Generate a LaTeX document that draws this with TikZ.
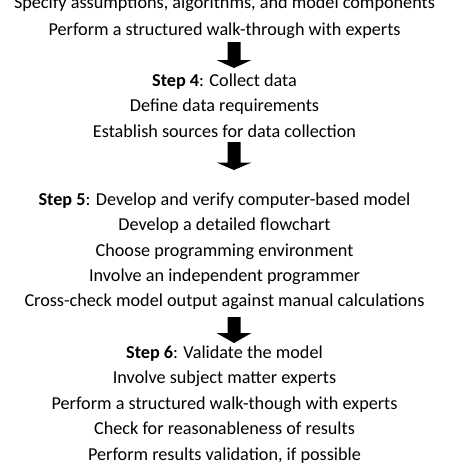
\documentclass[tikz,border=0pt]{standalone}
\usepackage{fontspec}
\setmainfont{Carlito}
\begin{document}
\begin{tikzpicture}[x=1pt,y=-1pt,
  line/.style={anchor=base,inner sep=0pt,font=\fontsize{18.2}{22}\selectfont},
  blockarrow/.style={fill=black}]
\useasboundingbox (0,0) rectangle (474,474);
\def\cx{224.5}
\node[line] (l1) at (\cx,8.3) {Specify assumptions, algorithms, and model components};
\node[line] (l2) at (\cx,35) {Perform a structured walk-through with experts};
\node[line] (s4) at (\cx,86) {\textbf{Step 4}: Collect data};
\node[line] (s4a) at (\cx,111.7) {Define data requirements};
\node[line] (s4b) at (\cx,137.3) {Establish sources for data collection};
\node[line] (s5) at (\cx,205) {\textbf{Step 5}: Develop and verify computer-based model};
\node[line] (s5a) at (\cx,230.7) {Develop a detailed flowchart};
\node[line] (s5b) at (\cx,256.7) {Choose programming environment};
\node[line] (s5c) at (\cx,281.7) {Involve an independent programmer};
\node[line] (s5d) at (\cx,306.7) {Cross-check model output against manual calculations};
\node[line] (s6) at (\cx,358.3) {\textbf{Step 6}: Validate the model};
\node[line] (s6a) at (\cx,383.3) {Involve subject matter experts};
\node[line] (s6b) at (\cx,409.3) {Perform a structured walk-though with experts};
\node[line] (s6c) at (\cx,434) {Check for reasonableness of results};
\node[line] (s6d) at (\cx,460) {Perform results validation, if possible};
% block arrows
\coordinate (a1) at (234,42);
\coordinate (a2) at (234,142);
\coordinate (a3) at (234,317);
\fill[blockarrow] (a1) ++(-6.5,0) -- ++(13,0) -- ++(0,18) -- ++(11,0) -- ++(-17.5,8) -- ++(-17.5,-8) -- ++(11,0) -- cycle;
\fill[blockarrow] (a2) ++(-6.5,0) -- ++(13,0) -- ++(0,20.5) -- ++(11,0) -- ++(-17.5,7.5) -- ++(-17.5,-7.5) -- ++(11,0) -- cycle;
\fill[blockarrow] (a3) ++(-6.5,0) -- ++(13,0) -- ++(0,16) -- ++(11,0) -- ++(-17.5,10) -- ++(-17.5,-10) -- ++(11,0) -- cycle;
\end{tikzpicture}
\end{document}
